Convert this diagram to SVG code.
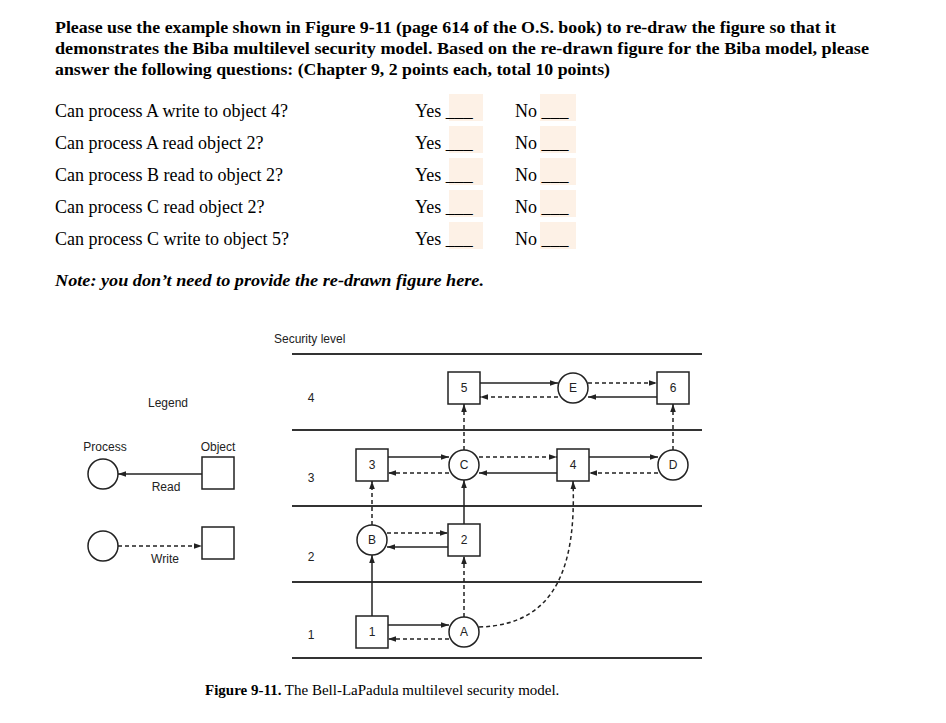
<svg xmlns="http://www.w3.org/2000/svg" width="946" height="723" viewBox="0 0 946 723">
<defs>
<style>
.t{font-family:"Liberation Serif",serif;fill:#000}
.h{font-size:17px;font-weight:bold}
.q{font-size:18px}
.s{font-family:"Liberation Sans",Arial,sans-serif;font-size:12px;fill:#222}
.n{font-family:"Liberation Sans",Arial,sans-serif;font-size:12px;fill:#222;text-anchor:middle;dominant-baseline:central}
.box{fill:#fff;stroke:#222;stroke-width:1.5}
.ln{stroke:#333;stroke-width:2}
.r{stroke:#222;stroke-width:1.5;fill:none;marker-end:url(#ah)}
.w{stroke:#222;stroke-width:1.5;fill:none;stroke-dasharray:4 3;marker-end:url(#ah)}
.sh{fill:#fdf1e6}
</style>
<marker id="ah" viewBox="0 0 10 10" refX="10" refY="5" markerWidth="8" markerHeight="8" orient="auto" markerUnits="userSpaceOnUse"><path d="M0,1.5 L10,5 L0,8.5 z" fill="#222"/></marker>
</defs>
<rect width="946" height="723" fill="#fff"/>
<g id="header">
<text class="t h" x="55" y="33" textLength="781" lengthAdjust="spacingAndGlyphs">Please use the example shown in Figure 9-11 (page 614 of the O.S. book) to re-draw the figure so that it</text>
<text class="t h" x="55" y="54" textLength="814" lengthAdjust="spacingAndGlyphs">demonstrates the Biba multilevel security model. Based on the re-drawn figure for the Biba model, please</text>
<text class="t h" x="55" y="75" textLength="555" lengthAdjust="spacingAndGlyphs">answer the following questions: (Chapter 9, 2 points each, total 10 points)</text>
</g>
<g id="questions">
<rect class="sh" x="449" y="94" width="34" height="27"/><rect class="sh" x="540" y="94" width="36" height="27"/>
<rect class="sh" x="449" y="126" width="34" height="27"/><rect class="sh" x="540" y="126" width="36" height="27"/>
<rect class="sh" x="449" y="158" width="34" height="27"/><rect class="sh" x="540" y="158" width="36" height="27"/>
<rect class="sh" x="449" y="190" width="34" height="27"/><rect class="sh" x="540" y="190" width="36" height="27"/>
<rect class="sh" x="449" y="222" width="34" height="27"/><rect class="sh" x="540" y="222" width="36" height="27"/>
<text class="t q" x="55" y="117">Can process A write to object 4?</text>
<text class="t q" x="55" y="149">Can process A read object 2?</text>
<text class="t q" x="55" y="181">Can process B read to object 2?</text>
<text class="t q" x="55" y="213">Can process C read object 2?</text>
<text class="t q" x="55" y="245">Can process C write to object 5?</text>
<g class="t q">
<text x="415" y="117">Yes ___</text><text x="515" y="117">No ___</text>
<text x="415" y="149">Yes ___</text><text x="515" y="149">No ___</text>
<text x="415" y="181">Yes ___</text><text x="515" y="181">No ___</text>
<text x="415" y="213">Yes ___</text><text x="515" y="213">No ___</text>
<text x="415" y="245">Yes ___</text><text x="515" y="245">No ___</text>
</g>
<text class="t" x="55" y="286" font-size="17" font-weight="bold" font-style="italic" textLength="429" lengthAdjust="spacingAndGlyphs">Note: you don’t need to provide the re-drawn figure here.</text>
</g>
<g id="levels">
<text class="s" x="274" y="343">Security level</text>
<line class="ln" x1="292" y1="354" x2="702" y2="354"/>
<line class="ln" x1="292" y1="430" x2="702" y2="430"/>
<line class="ln" x1="292" y1="506" x2="702" y2="506"/>
<line class="ln" x1="292" y1="582" x2="702" y2="582"/>
<line class="ln" x1="292" y1="658" x2="702" y2="658"/>
<text class="n" x="311" y="398">4</text><text class="n" x="311" y="478">3</text>
<text class="n" x="311" y="557">2</text><text class="n" x="311" y="635">1</text>
</g>
<g id="legend">
<text class="n" x="168" y="403">Legend</text>
<text class="n" x="105" y="447">Process</text>
<text class="n" x="218" y="447">Object</text>
<circle class="box" cx="103" cy="474" r="15"/>
<rect class="box" x="202" y="457" width="32" height="32"/>
<line class="r" x1="202" y1="474" x2="118" y2="474"/>
<text class="n" x="166" y="487">Read</text>
<circle class="box" cx="103" cy="546" r="15"/>
<rect class="box" x="202" y="527" width="32" height="32"/>
<line class="w" x1="118" y1="546" x2="202" y2="546"/>
<text class="n" x="165" y="559">Write</text>
</g>
<g id="connectors">
<line class="r" x1="480" y1="383" x2="558" y2="383"/>
<line class="w" x1="558" y1="397" x2="480" y2="397"/>
<line class="w" x1="588" y1="383" x2="657" y2="383"/>
<line class="r" x1="657" y1="397" x2="588" y2="397"/>
<line class="r" x1="388" y1="457" x2="449" y2="457"/>
<line class="w" x1="449" y1="473" x2="388" y2="473"/>
<line class="w" x1="479" y1="457" x2="557" y2="457"/>
<line class="r" x1="557" y1="473" x2="479" y2="473"/>
<line class="r" x1="589" y1="457" x2="658" y2="457"/>
<line class="w" x1="658" y1="473" x2="589" y2="473"/>
<line class="w" x1="464" y1="450" x2="464" y2="404"/>
<line class="w" x1="673" y1="450" x2="673" y2="404"/>
<line class="w" x1="372" y1="525" x2="372" y2="481"/>
<line class="r" x1="464" y1="524" x2="464" y2="480"/>
<line class="w" x1="387" y1="533" x2="448" y2="533"/>
<line class="r" x1="448" y1="547" x2="387" y2="547"/>
<line class="r" x1="372" y1="616" x2="372" y2="555"/>
<line class="w" x1="464" y1="617" x2="464" y2="556"/>
<line class="r" x1="388" y1="625" x2="449" y2="625"/>
<line class="w" x1="449" y1="639" x2="388" y2="639"/>
<path class="w" d="M479,627 C560,625 576,560 573,481"/>
</g>
<g id="node-5"><rect class="box" x="448" y="372" width="32" height="32"/><text class="n" x="464" y="388">5</text></g>
<g id="node-E"><circle class="box" cx="573" cy="388" r="15"/><text class="n" x="573" y="388">E</text></g>
<g id="node-6"><rect class="box" x="657" y="372" width="32" height="32"/><text class="n" x="673" y="388">6</text></g>
<g id="node-3"><rect class="box" x="356" y="449" width="32" height="32"/><text class="n" x="372" y="465">3</text></g>
<g id="node-C"><circle class="box" cx="464" cy="465" r="15"/><text class="n" x="464" y="465">C</text></g>
<g id="node-4"><rect class="box" x="557" y="449" width="32" height="32"/><text class="n" x="573" y="465">4</text></g>
<g id="node-D"><circle class="box" cx="673" cy="465" r="15"/><text class="n" x="673" y="465">D</text></g>
<g id="node-B"><circle class="box" cx="372" cy="540" r="15"/><text class="n" x="372" y="540">B</text></g>
<g id="node-2"><rect class="box" x="448" y="524" width="32" height="32"/><text class="n" x="464" y="540">2</text></g>
<g id="node-1"><rect class="box" x="356" y="616" width="32" height="32"/><text class="n" x="372" y="632">1</text></g>
<g id="node-A"><circle class="box" cx="464" cy="632" r="15"/><text class="n" x="464" y="632">A</text></g>
<text class="t" x="205" y="695" font-size="15"><tspan font-weight="bold">Figure 9-11.</tspan> The Bell-LaPadula multilevel security model.</text>
</svg>
